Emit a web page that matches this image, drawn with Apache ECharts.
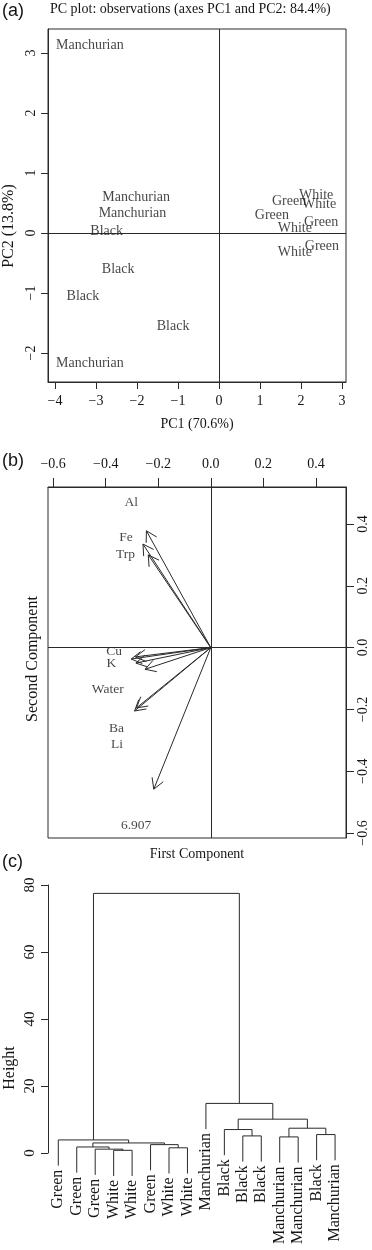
<!DOCTYPE html>
<html><head><meta charset="utf-8">
<script src="https://cdn.jsdelivr.net/npm/echarts@6/dist/echarts.min.js"></script>
<style>html,body{margin:0;padding:0;background:#fff}#c{width:372px;height:1250px}</style>
</head><body><div id="c"></div>
<script>
// ---------- Panel (a): PC plot of observations ----------
const pcaLabels = ["Manchurian","Manchurian","Manchurian","Black","Black","Black","Black","Manchurian",
                   "Green","White","White","Green","White","Green","Green","White"];
const pc1 = [-3.15,-2.02,-2.11,-2.74,-2.46,-3.32,-1.12,-3.15, 1.71,2.37,2.44,1.29,1.85,2.49,2.51,1.85];
const pc2 = [3.13,0.60,0.33,0.02,-0.60,-1.05,-1.55,-2.18, 0.53,0.63,0.47,0.30,0.08,0.18,-0.23,-0.33];
const pcXTicks = [-4,-3,-2,-1,0,1,2,3];
const pcYTicks = [-2,-1,0,1,2,3];

// ---------- Panel (b): biplot loadings ----------
const loadX = [-0.245,-0.258,-0.238, -0.287,-0.303,-0.285,-0.250, -0.290,-0.283, -0.217];
const loadY = [0.378,0.335,0.300, -0.030,-0.037,-0.050,-0.070, -0.205,-0.195, -0.458];
const varLabels = ["Al","Fe","Trp","Cu","K","Water","Ba","Li","6.907"];
const varLabelX = [-0.303,-0.323,-0.325,-0.368,-0.378,-0.392,-0.359,-0.357,-0.284];
const varLabelY = [0.470,0.356,0.300,-0.013,-0.051,-0.135,-0.263,-0.312,-0.577];
const compTicks = [-0.6,-0.4,-0.2,0,0.2,0.4];

// ---------- Panel (c): dendrogram ----------
const leafLabels = ["Green","Green","Green","White","White","Green","White","White",
                    "Manchurian","Black","Black","Black","Manchurian","Manchurian","Black","Manchurian"];
const mergeLeft   = [-4,-3,-2,-7,-6, 3,-1,-13,-11,-15,-10, 8,11,-9, 7];
const mergeRight  = [-5, 1, 2,-8, 4, 5, 6,-14,-12,-16,  9,10,12,13,14];
const mergeHeight = [0.8,1.15,1.8,1.55,2.5,3.0,3.9,4.8,5.1,5.5,7.0,7.4,10.1,14.8,77.5];
const heightTicks = [0,20,40,60,80];

// ---------- derived ----------
const SERIF = "'Liberation Serif','Times New Roman',serif";
const SANS = "'Liberation Sans',Arial,sans-serif";
const INK = '#151515', LINE = '#2a2a2a';
const minus = v => String(v).replace('-', '\u2212');

const HANG = 0.1 * (Math.max(...mergeHeight) - Math.min(...mergeHeight));
const nodeX = [];
const leafBottom = [];
const childX = c => c < 0 ? -c : nodeX[c - 1];
const dendroSegs = mergeLeft.map((l, k) => {
  const r = mergeRight[k], h = mergeHeight[k];
  nodeX[k] = (childX(l) + childX(r)) / 2;
  const bot = c => { if (c < 0) { leafBottom[-c - 1] = h - HANG; return h - HANG; } return mergeHeight[c - 1]; };
  return [childX(l), bot(l), childX(r), bot(r), h];
});
const leafData = leafLabels.map((n, i) => [i + 1, leafBottom[i], i]);

const tickStyle = {color: LINE, width: 1};
const labelBase = {fontFamily: SERIF, fontSize: 14, color: INK};
const axLine = {show: true, onZero: false, lineStyle: tickStyle};

const chart = echarts.init(document.getElementById('c'), null, {renderer: 'canvas'});
chart.setOption({
  animation: false,
  backgroundColor: '#fff',
  title: {text: 'PC plot: observations (axes PC1 and PC2: 84.4%)', left: 50, top: 2, padding: 0,
          textStyle: {fontFamily: SERIF, fontSize: 14, fontWeight: 'normal', color: INK}},
  grid: [
    {left: 48, top: 29, width: 298, height: 353, show: true, borderColor: LINE, borderWidth: 1, outerBoundsMode: 'none', containLabel: false},
    {left: 48, top: 487, width: 298, height: 351, show: true, borderColor: LINE, borderWidth: 1, outerBoundsMode: 'none', containLabel: false},
    {left: 48, top: 885, width: 296.3, height: 268, show: false, outerBoundsMode: 'none', containLabel: false}
  ],
  xAxis: [
    {gridIndex: 0, type: 'value', position: 'bottom', min: -4.171, max: 3.098,
     axisLine: axLine,
     axisTick: {show: true, inside: false, length: 7, customValues: pcXTicks, lineStyle: tickStyle},
     axisLabel: Object.assign({customValues: pcXTicks, margin: 12, formatter: v => minus(v)}, labelBase),
     splitLine: {show: false},
     name: 'PC1 (70.6%)', nameLocation: 'middle', nameGap: 35,
     nameTextStyle: {fontFamily: SERIF, fontSize: 14, color: INK}},
    {gridIndex: 1, type: 'value', position: 'top', min: -0.6195, max: 0.5145,
     axisLine: axLine,
     axisTick: {show: true, inside: false, length: 9, customValues: compTicks, lineStyle: tickStyle},
     axisLabel: Object.assign({customValues: compTicks, margin: 16, formatter: v => minus(v.toFixed(1))}, labelBase),
     splitLine: {show: false}},
    {gridIndex: 1, type: 'value', position: 'bottom', min: -0.6195, max: 0.5145,
     axisLine: {show: false, onZero: false}, axisTick: {show: false}, axisLabel: {show: false}, splitLine: {show: false},
     name: 'First Component', nameLocation: 'middle', nameGap: 9,
     nameTextStyle: {fontFamily: SERIF, fontSize: 14, color: INK}},
    {gridIndex: 2, type: 'value', min: 0.442, max: 16.5, show: false, axisLine: {onZero: false}, splitLine: {show: false}}
  ],
  yAxis: [
    {gridIndex: 0, type: 'value', position: 'left', min: -2.483, max: 3.4,
     axisLine: axLine,
     axisTick: {show: true, inside: false, length: 7, customValues: pcYTicks, lineStyle: tickStyle},
     axisLabel: Object.assign({customValues: pcYTicks, margin: 10, rotate: 90, formatter: v => minus(v)}, labelBase),
     splitLine: {show: false}},
    {gridIndex: 1, type: 'value', position: 'right', min: -0.616, max: 0.5197,
     axisLine: axLine,
     axisTick: {show: true, inside: false, length: 8, customValues: compTicks, lineStyle: tickStyle},
     axisLabel: Object.assign({customValues: compTicks, margin: 10, rotate: 90, formatter: v => minus(v.toFixed(1))}, labelBase),
     splitLine: {show: false}},
    {gridIndex: 2, type: 'value', position: 'left', min: 0, max: 80, interval: 20,
     axisLine: axLine,
     axisTick: {show: true, inside: false, length: 7, lineStyle: tickStyle},
     axisLabel: Object.assign({margin: 10, rotate: 90, customValues: heightTicks}, labelBase, {fontSize: 15}),
     splitLine: {show: false}}
  ],
  graphic: [
    {type: 'text', x: 2, y: 2, style: {text: '(a)', font: '18px ' + SANS, fill: INK, textVerticalAlign: 'top', verticalAlign: 'top'}},
    {type: 'text', x: 2, y: 452, style: {text: '(b)', font: '18px ' + SANS, fill: INK, textVerticalAlign: 'top', verticalAlign: 'top'}},
    {type: 'text', x: 2, y: 853, style: {text: '(c)', font: '18px ' + SANS, fill: INK, textVerticalAlign: 'top', verticalAlign: 'top'}},
    {type: 'text', x: 9, y: 226, rotation: Math.PI / 2,
     style: {text: 'PC2 (13.8%)', font: '16px ' + SERIF, fill: INK, textAlign: 'center', align: 'center', textVerticalAlign: 'middle', verticalAlign: 'middle'}},
    {type: 'text', x: 33, y: 659, rotation: Math.PI / 2,
     style: {text: 'Second Component', font: '16px ' + SERIF, fill: INK, textAlign: 'center', align: 'center', textVerticalAlign: 'middle', verticalAlign: 'middle'}},
    {type: 'text', x: 10, y: 1068, rotation: Math.PI / 2,
     style: {text: 'Height', font: '16px ' + SERIF, fill: INK, textAlign: 'center', align: 'center', textVerticalAlign: 'middle', verticalAlign: 'middle'}}
  ],
  series: [
    {type: 'scatter', xAxisIndex: 0, yAxisIndex: 0, silent: true,
     symbol: 'circle', symbolSize: 1, itemStyle: {color: 'transparent'},
     data: pc1.map((x, i) => ({value: [x, pc2[i]], name: pcaLabels[i]})),
     label: Object.assign({show: true, position: 'inside', formatter: '{b}'}, labelBase),
     emphasis: {disabled: true},
     markLine: {silent: true, symbol: ['none', 'none'], label: {show: false},
                lineStyle: {color: LINE, type: 'solid', width: 1},
                data: [{xAxis: 0}, {yAxis: 0}]}},
    {type: 'scatter', xAxisIndex: 1, yAxisIndex: 1, silent: true,
     symbol: 'circle', symbolSize: 1, itemStyle: {color: 'transparent'},
     data: varLabelX.map((x, i) => ({value: [x, varLabelY[i]], name: varLabels[i]})),
     label: Object.assign({show: true, position: 'inside', formatter: '{b}'}, labelBase, {fontSize: 13.5}),
     emphasis: {disabled: true},
     markLine: {silent: true, symbol: ['none', 'none'], label: {show: false},
                lineStyle: {color: LINE, type: 'solid', width: 1},
                data: [{xAxis: 0}, {yAxis: 0}]}},
    {type: 'custom', xAxisIndex: 1, yAxisIndex: 1, silent: true,
     data: loadX.map((x, i) => [x, loadY[i]]),
     renderItem: (params, api) => {
       const o = api.coord([0, 0]);
       const t = api.coord([api.value(0), api.value(1)]);
       const ang = Math.atan2(o[1] - t[1], o[0] - t[0]);
       const L = 12, a = Math.PI / 6;
       const h1 = [t[0] + L * Math.cos(ang + a), t[1] + L * Math.sin(ang + a)];
       const h2 = [t[0] + L * Math.cos(ang - a), t[1] + L * Math.sin(ang - a)];
       return {type: 'group', children: [
         {type: 'line', shape: {x1: o[0], y1: o[1], x2: t[0], y2: t[1]}, style: {stroke: LINE, lineWidth: 1}},
         {type: 'polyline', shape: {points: [h1, t, h2]}, style: {stroke: LINE, lineWidth: 1, fill: null}}
       ]};
     }},
    {type: 'custom', xAxisIndex: 3, yAxisIndex: 2, silent: true, clip: false,
     data: dendroSegs,
     encode: {x: [0, 2], y: [1, 3, 4]},
     renderItem: (params, api) => {
       const xl = api.value(0), bl = api.value(1), xr = api.value(2), br = api.value(3), h = api.value(4);
       const pts = [[xl, bl], [xl, h], [xr, h], [xr, br]].map(d => api.coord(d));
       return {type: 'polyline', shape: {points: pts}, style: {stroke: LINE, lineWidth: 1, fill: null}};
     }},
    {type: 'custom', xAxisIndex: 3, yAxisIndex: 2, silent: true, clip: false,
     data: leafData,
     renderItem: (params, api) => {
       const p = api.coord([api.value(0), api.value(1)]);
       return {type: 'text', x: p[0], y: p[1] + 4, rotation: Math.PI / 2,
               style: {text: leafLabels[api.value(2)], font: '16px ' + SERIF, fill: INK,
                       textAlign: 'right', align: 'right', textVerticalAlign: 'middle', verticalAlign: 'middle'}};
     }}
  ]
});
</script></body></html>
